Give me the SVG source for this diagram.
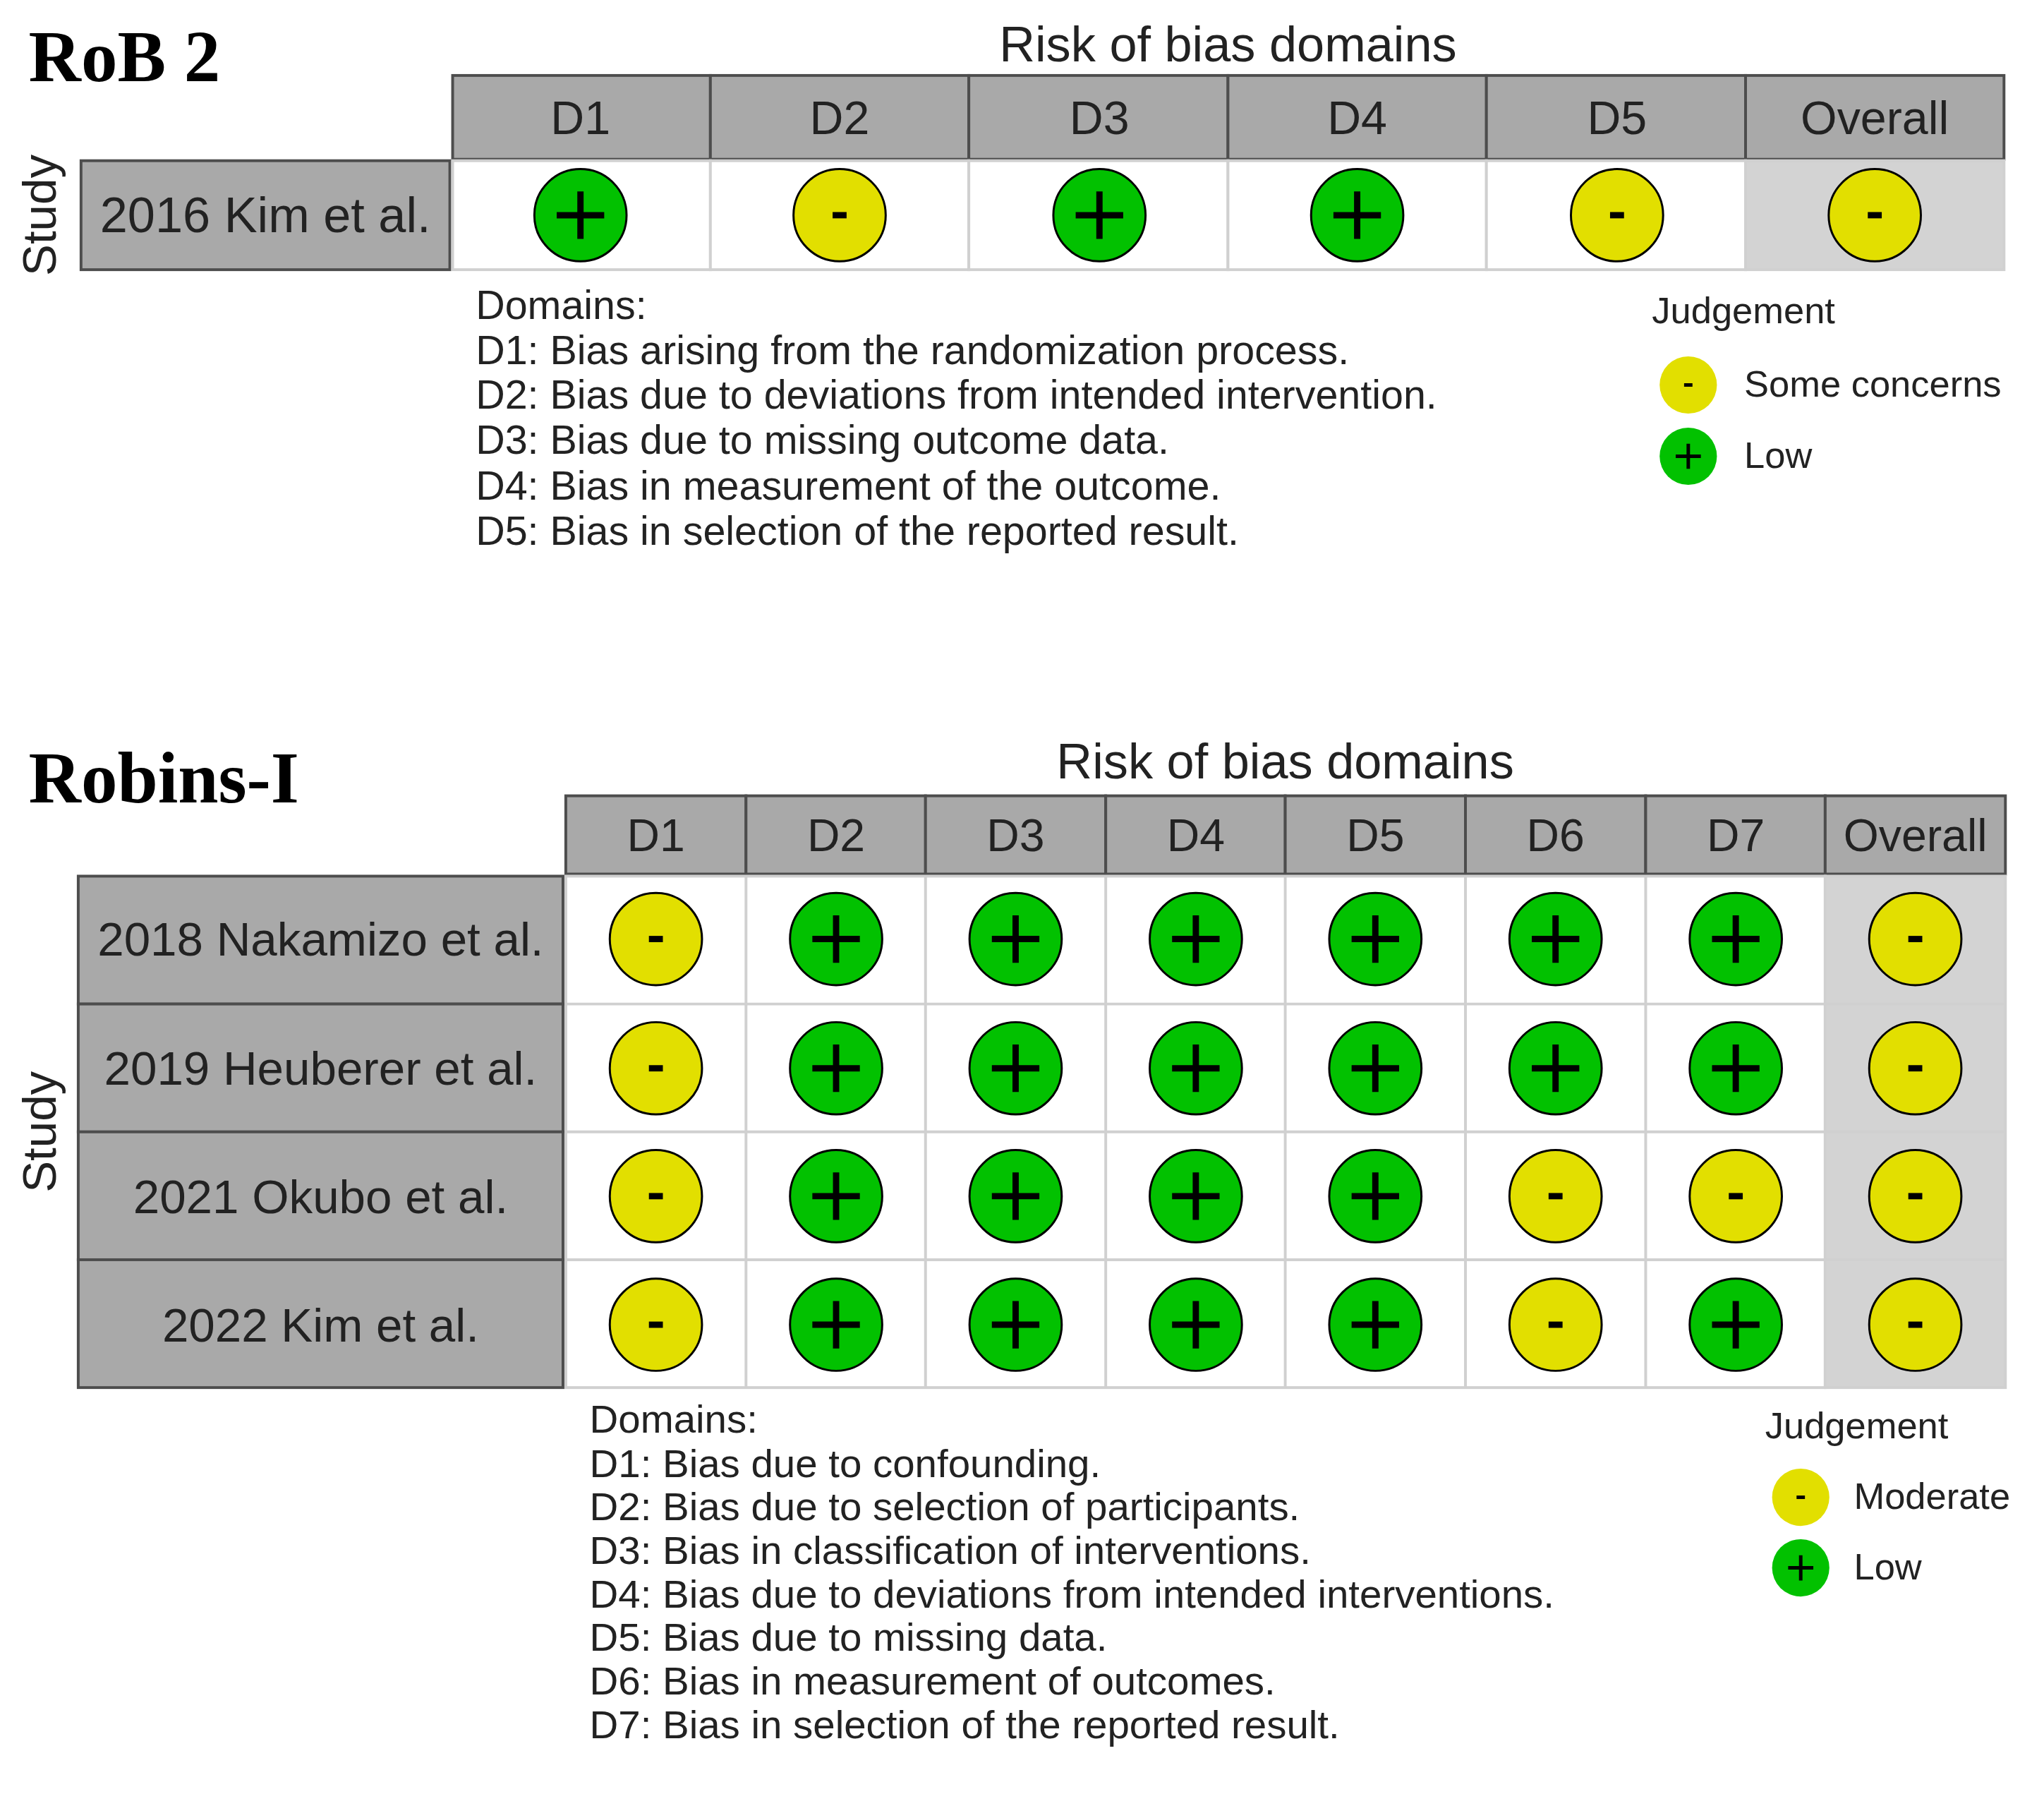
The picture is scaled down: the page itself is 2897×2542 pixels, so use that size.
<svg xmlns="http://www.w3.org/2000/svg" width="2897" height="2542" viewBox="0 0 2897 2542">
<style>
.t{font-family:"Liberation Serif",serif;font-weight:bold;font-size:104px;fill:#000}
.s{font-family:"Liberation Sans",Arial,sans-serif;fill:#222}
.h{fill:#a9a9a9;stroke:#4d4d4d;stroke-width:4}
.c{fill:#fff;stroke:#d0d0d0;stroke-width:4}
.o{fill:#d3d3d3;stroke:#d0d0d0;stroke-width:4}
.g{fill:#02c100;stroke:#000;stroke-width:3}
.y{fill:#e2df00;stroke:#000;stroke-width:3}
.gl{fill:#02c100}
.yl{fill:#e2df00}
.m{stroke:#000;stroke-width:9;fill:none}
</style>
<defs>
<g id="plus"><circle r="66" class="g"/><path class="m" d="M-34 0H34M0-34V34"/></g>
<g id="minus"><circle r="66" class="y"/><path class="m" d="M-10 0H10" stroke-width="10"/></g>
<g id="plusL"><circle r="41" class="gl"/><path stroke="#000" stroke-width="5" d="M-18 0H18M0-18V18"/></g>
<g id="minusL"><circle r="41" class="yl"/><path stroke="#000" stroke-width="5" d="M-6 0H6"/></g>
</defs>
<rect width="2897" height="2542" fill="#fff"/>
<g transform="scale(0.99)">
<g id="rob2">
<text class="t" x="41" y="116">RoB 2</text>
<text class="s" x="1758" y="88" font-size="71" text-anchor="middle">Risk of bias domains</text>
<g id="rob2-header">
<rect class="h" x="648" y="108" width="369" height="120"/>
<rect class="h" x="1017" y="108" width="370" height="120"/>
<rect class="h" x="1387" y="108" width="371" height="120"/>
<rect class="h" x="1758" y="108" width="370" height="120"/>
<rect class="h" x="2128" y="108" width="371" height="120"/>
<rect class="h" x="2499" y="108" width="370" height="120"/>
<g class="s" text-anchor="middle" font-size="67">
<text x="831" y="192">D1</text><text x="1202" y="192">D2</text><text x="1574" y="192">D3</text><text x="1943" y="192">D4</text><text x="2315" y="192">D5</text><text x="2684" y="192">Overall</text>
</g>
</g>
<text class="s" font-size="68" transform="translate(80,308) rotate(-90)" text-anchor="middle">Study</text>
<g id="rob2-row1">
<rect class="h" x="116" y="230" width="528" height="156"/>
<text class="s" x="380" y="332" font-size="71" text-anchor="middle">2016 Kim et al.</text>
<rect class="c" x="648" y="230" width="369" height="156"/>
<rect class="c" x="1017" y="230" width="370" height="156"/>
<rect class="c" x="1387" y="230" width="371" height="156"/>
<rect class="c" x="1758" y="230" width="370" height="156"/>
<rect class="c" x="2128" y="230" width="371" height="156"/>
<rect class="o" x="2499" y="230" width="370" height="156"/>
<use href="#plus" x="831" y="308"/><use href="#minus" x="1202" y="308"/><use href="#plus" x="1574" y="308"/><use href="#plus" x="1943" y="308"/><use href="#minus" x="2315" y="308"/><use href="#minus" x="2684" y="308"/>
</g>
<g id="rob2-domains" class="s" font-size="58">
<text x="681" y="457">Domains:</text>
<text x="681" y="521">D1: Bias arising from the randomization process.</text>
<text x="681" y="585">D2: Bias due to deviations from intended intervention.</text>
<text x="681" y="650">D3: Bias due to missing outcome data.</text>
<text x="681" y="715">D4: Bias in measurement of the outcome.</text>
<text x="681" y="780">D5: Bias in selection of the reported result.</text>
</g>
<g id="rob2-legend" class="s" font-size="53">
<text x="2365" y="463">Judgement</text>
<use href="#minusL" x="2417" y="551"/><text x="2497" y="568">Some concerns</text>
<use href="#plusL" x="2417" y="653"/><text x="2497" y="670">Low</text>
</g>
</g>

<g id="robins">
<text class="t" x="41" y="1148">Robins-I</text>
<text class="s" x="1840" y="1114" font-size="71" text-anchor="middle">Risk of bias domains</text>
<g id="robins-header">
<rect class="h" x="810" y="1139" width="258" height="112"/>
<rect class="h" x="1068" y="1139" width="257" height="112"/>
<rect class="h" x="1325" y="1139" width="258" height="112"/>
<rect class="h" x="1583" y="1139" width="257" height="112"/>
<rect class="h" x="1840" y="1139" width="258" height="112"/>
<rect class="h" x="2098" y="1139" width="258" height="112"/>
<rect class="h" x="2356" y="1139" width="257" height="112"/>
<rect class="h" x="2613" y="1139" width="258" height="112"/>
<g class="s" text-anchor="middle" font-size="65">
<text x="939" y="1218">D1</text><text x="1197" y="1218">D2</text><text x="1454" y="1218">D3</text><text x="1712" y="1218">D4</text><text x="1969" y="1218">D5</text><text x="2227" y="1218">D6</text><text x="2485" y="1218">D7</text><text x="2742" y="1218">Overall</text>
</g>
</g>
<text class="s" font-size="68" transform="translate(80,1620) rotate(-90)" text-anchor="middle">Study</text>
<g id="robins-cells">
<rect class="c" x="810" y="1254" width="1803" height="732"/>
<rect class="o" x="2613" y="1254" width="258" height="732"/>
<path stroke="#d0d0d0" stroke-width="4" d="M1068 1254V1986M1325 1254V1986M1583 1254V1986M1840 1254V1986M2098 1254V1986M2356 1254V1986M810 1437H2871M810 1620H2871M810 1803H2871"/>
</g>
<g id="robins-row1">
<rect class="h" x="112" y="1254" width="694" height="183"/>
<text class="s" x="459" y="1368" font-size="68" text-anchor="middle">2018 Nakamizo et al.</text>
<use href="#minus" x="939" y="1344"/><use href="#plus" x="1197" y="1344"/><use href="#plus" x="1454" y="1344"/><use href="#plus" x="1712" y="1344"/><use href="#plus" x="1969" y="1344"/><use href="#plus" x="2227" y="1344"/><use href="#plus" x="2485" y="1344"/><use href="#minus" x="2742" y="1344"/>
</g>
<g id="robins-row2">
<rect class="h" x="112" y="1437" width="694" height="183"/>
<text class="s" x="459" y="1553" font-size="68" text-anchor="middle">2019 Heuberer et al.</text>
<use href="#minus" x="939" y="1529"/><use href="#plus" x="1197" y="1529"/><use href="#plus" x="1454" y="1529"/><use href="#plus" x="1712" y="1529"/><use href="#plus" x="1969" y="1529"/><use href="#plus" x="2227" y="1529"/><use href="#plus" x="2485" y="1529"/><use href="#minus" x="2742" y="1529"/>
</g>
<g id="robins-row3">
<rect class="h" x="112" y="1620" width="694" height="183"/>
<text class="s" x="459" y="1736" font-size="68" text-anchor="middle">2021 Okubo et al.</text>
<use href="#minus" x="939" y="1712"/><use href="#plus" x="1197" y="1712"/><use href="#plus" x="1454" y="1712"/><use href="#plus" x="1712" y="1712"/><use href="#plus" x="1969" y="1712"/><use href="#minus" x="2227" y="1712"/><use href="#minus" x="2485" y="1712"/><use href="#minus" x="2742" y="1712"/>
</g>
<g id="robins-row4">
<rect class="h" x="112" y="1803" width="694" height="183"/>
<text class="s" x="459" y="1920" font-size="68" text-anchor="middle">2022 Kim et al.</text>
<use href="#minus" x="939" y="1896"/><use href="#plus" x="1197" y="1896"/><use href="#plus" x="1454" y="1896"/><use href="#plus" x="1712" y="1896"/><use href="#plus" x="1969" y="1896"/><use href="#minus" x="2227" y="1896"/><use href="#plus" x="2485" y="1896"/><use href="#minus" x="2742" y="1896"/>
</g>
<g id="robins-domains" class="s" font-size="57">
<text x="844" y="2051">Domains:</text>
<text x="844" y="2114">D1: Bias due to confounding.</text>
<text x="844" y="2176">D2: Bias due to selection of participants.</text>
<text x="844" y="2238">D3: Bias in classification of interventions.</text>
<text x="844" y="2301">D4: Bias due to deviations from intended interventions.</text>
<text x="844" y="2363">D5: Bias due to missing data.</text>
<text x="844" y="2425">D6: Bias in measurement of outcomes.</text>
<text x="844" y="2488">D7: Bias in selection of the reported result.</text>
</g>
<g id="robins-legend" class="s" font-size="53">
<text x="2527" y="2059">Judgement</text>
<use href="#minusL" x="2578" y="2143"/><text x="2654" y="2160">Moderate</text>
<use href="#plusL" x="2578" y="2244"/><text x="2654" y="2261">Low</text>
</g>
</g>
</g>
</svg>
